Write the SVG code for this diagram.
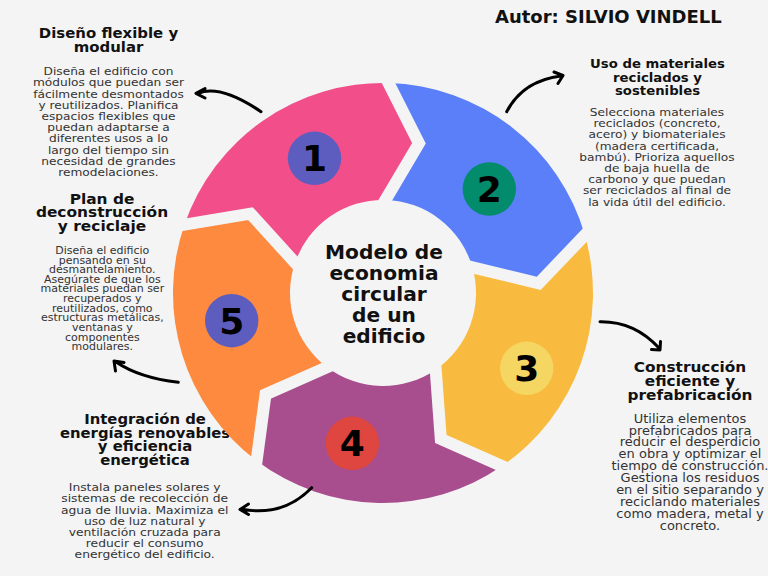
<svg xmlns="http://www.w3.org/2000/svg" width="768" height="576" viewBox="0 0 768 576">
<style>
text{font-family:"DejaVu Sans","Liberation Sans",sans-serif;text-anchor:middle}
.h{font-weight:bold;fill:#111}
.b{fill:#333}
.num{font-weight:bold;font-size:36px;fill:#000}
.gap{fill:none;stroke:#f4f4f4;stroke-width:12;stroke-linejoin:miter}
.arr{fill:none;stroke:#000;stroke-width:3;stroke-linecap:round;stroke-linejoin:round}
</style>
<rect width="768" height="576" fill="#f4f4f4"/>
<text class="h" x="495" y="23.3" font-size="18" style="text-anchor:start">Autor: SILVIO VINDELL</text>

<g id="node-1">
<path fill="#f14e8a" d="M184.44,224.63 A210,210 0 0 1 388.5,83.07 L418.95,143.25 L385.4,200 A93,93 0 0 0 295.07,262.72 L250.5,213.6 Z"/>
<circle cx="314.5" cy="158.3" r="26.7" fill="#5c5dbe"/>
<text class="num" x="314.5" y="171.3">1</text>
<g font-size="14.5" class="h" transform="translate(108.5,0) scale(1.03,1)"><text x="0" y="37.7">Diseño flexible y</text><text x="0" y="51.7">modular</text></g>
<g font-size="10.5" class="b" transform="translate(108.5,0) scale(1.16,1)">
<text x="0" y="75.3">Diseña el edificio con</text>
<text x="0" y="86.5">módulos que puedan ser</text>
<text x="0" y="97.7">fácilmente desmontados</text>
<text x="0" y="108.9">y reutilizados. Planifica</text>
<text x="0" y="120.1">espacios flexibles que</text>
<text x="0" y="131.3">puedan adaptarse a</text>
<text x="0" y="142.5">diferentes usos a lo</text>
<text x="0" y="153.7">largo del tiempo sin</text>
<text x="0" y="164.9">necesidad de grandes</text>
<text x="0" y="176.1">remodelaciones.</text>
</g>
</g>

<g id="node-2">
<path fill="#5b7ff9" d="M388.5,83.07 A210,210 0 0 1 584.86,235.12 L538.7,283.3 L472.4,267.37 A93,93 0 0 0 385.4,200 L418.95,143.25 Z"/>
<circle cx="489.3" cy="189" r="26.7" fill="#038c6c"/>
<text class="num" x="489.3" y="202">2</text>
<g font-size="12.5" class="h" transform="translate(657.5,0) scale(1.06,1)"><text x="0" y="68.3">Uso de materiales</text><text x="0" y="81.6">reciclados y</text><text x="0" y="94.9">sostenibles</text></g>
<g font-size="11" class="b" transform="translate(657,0) scale(1.11,1)">
<text x="0" y="116">Selecciona materiales</text>
<text x="0" y="127.2">reciclados (concreto,</text>
<text x="0" y="138.4">acero) y biomateriales</text>
<text x="0" y="149.6">(madera certificada,</text>
<text x="0" y="160.8">bambú). Prioriza aquellos</text>
<text x="0" y="172">de baja huella de</text>
<text x="0" y="183.2">carbono y que puedan</text>
<text x="0" y="194.4">ser reciclados al final de</text>
<text x="0" y="205.6">la vida útil del edificio.</text>
</g>
</g>

<g id="node-3">
<path fill="#f8bb3f" d="M584.86,235.12 A210,210 0 0 1 501.95,466.07 L440.8,439 L435.68,369.64 A93,93 0 0 0 472.4,267.37 L538.7,283.3 Z"/>
<circle cx="526.7" cy="368.3" r="26.7" fill="#f6d662"/>
<text class="num" x="526.7" y="381.3">3</text>
<g font-size="14.2" class="h" transform="translate(690,0) scale(1.08,1)"><text x="0" y="371.7">Construcción</text><text x="0" y="385.9">eficiente y</text><text x="0" y="400.1">prefabricación</text></g>
<g font-size="11.5" class="b" transform="translate(690,0) scale(1.13,1)">
<text x="0" y="422.7">Utiliza elementos</text>
<text x="0" y="434.6">prefabricados para</text>
<text x="0" y="446.5">reducir el desperdicio</text>
<text x="0" y="458.4">en obra y optimizar el</text>
<text x="0" y="470.3">tiempo de construcción.</text>
<text x="0" y="482.2">Gestiona los residuos</text>
<text x="0" y="494.1">en el sitio separando y</text>
<text x="0" y="506">reciclando materiales</text>
<text x="0" y="517.9">como madera, metal y</text>
<text x="0" y="529.8">concreto.</text>
</g>
</g>

<g id="node-4">
<path fill="#a84d8d" d="M501.95,466.07 A210,210 0 0 1 256.62,460.71 L265.5,394.5 L327.03,367.27 A93,93 0 0 0 435.68,369.64 L440.8,439 Z"/>
<circle cx="352.3" cy="443.3" r="26.7" fill="#de463f"/>
<text class="num" x="352.3" y="456.3">4</text>
<g font-size="13.5" class="h" transform="translate(145,0) scale(1.1,1)"><text x="0" y="424">Integración de</text><text x="0" y="437.6">energías renovables</text><text x="0" y="451.2">y eficiencia</text><text x="0" y="464.8">energética</text></g>
<g font-size="11.3" class="b" transform="translate(144.7,0) scale(1.09,1)">
<text x="0" y="491.2">Instala paneles solares y</text>
<text x="0" y="502.4">sistemas de recolección de</text>
<text x="0" y="513.6">agua de lluvia. Maximiza el</text>
<text x="0" y="524.8">uso de luz natural y</text>
<text x="0" y="536">ventilación cruzada para</text>
<text x="0" y="547.2">reducir el consumo</text>
<text x="0" y="558.4">energético del edificio.</text>
</g>
</g>

<g id="node-5">
<path fill="#fd8a3e" d="M256.62,460.71 A210,210 0 0 1 184.44,224.63 L250.5,213.6 L295.07,262.72 A93,93 0 0 0 327.03,367.27 L265.5,394.5 Z"/>
<circle cx="231.7" cy="320.7" r="26.7" fill="#5c5dbe"/>
<text class="num" x="231.7" y="333.7">5</text>
<g font-size="14" class="h" transform="translate(102,0) scale(1.1,1)"><text x="0" y="204">Plan de</text><text x="0" y="217.3">deconstrucción</text><text x="0" y="230.6">y reciclaje</text></g>
<g font-size="10" class="b" transform="translate(102.3,0) scale(1.1,1)">
<text x="0" y="253.9">Diseña el edificio</text>
<text x="0" y="263.6">pensando en su</text>
<text x="0" y="273.2">desmantelamiento.</text>
<text x="0" y="282.9">Asegúrate de que los</text>
<text x="0" y="292.5">materiales puedan ser</text>
<text x="0" y="302.2">recuperados y</text>
<text x="0" y="311.9">reutilizados, como</text>
<text x="0" y="321.5">estructuras metálicas,</text>
<text x="0" y="331.2">ventanas y</text>
<text x="0" y="340.8">componentes</text>
<text x="0" y="350.5">modulares.</text>
</g>
</g>

<g id="gaps">
<path class="gap" d="M382.41,71.03 L418.95,143.25 L378.69,211.35"/>
<path class="gap" d="M594.09,225.48 L538.7,283.3 L459.14,264.18"/>
<path class="gap" d="M514.18,471.48 L440.8,439 L434.66,355.77"/>
<path class="gap" d="M254.84,473.95 L265.5,394.5 L339.34,361.82"/>
<path class="gap" d="M171.23,226.84 L250.5,213.6 L303.98,272.54"/>
</g>

<g id="center">
<g font-size="19.6" class="h" transform="translate(384,0) scale(1.03,1)">
<text x="0" y="259.3">Modelo de</text>
<text x="0" y="280.3">economia</text>
<text x="0" y="301.3">circular</text>
<text x="0" y="322.3">de un</text>
<text x="0" y="343.3">edificio</text>
</g>
</g>

<g id="connectors">
<path class="arr" d="M261,111.7 Q220.5,84.1 198,93.3 M205,88.5 L196,93.3 L205,98"/>
<path class="arr" d="M506.7,111.7 Q522.8,80.8 561,76 M554,72 L563,75.5 L558,83.5"/>
<path class="arr" d="M600,321.7 Q634.5,321.2 659,348 M651.5,349.5 L660,350 L660.5,341.5"/>
<path class="arr" d="M311.7,487.7 Q283.2,516.9 242,509.3 M248.5,504 L240,509.5 L248.5,514.5"/>
<path class="arr" d="M178.3,382.3 Q139.4,377.8 116,362 M115.5,371 L114,361 L124,362.5"/>
</g>
</svg>
